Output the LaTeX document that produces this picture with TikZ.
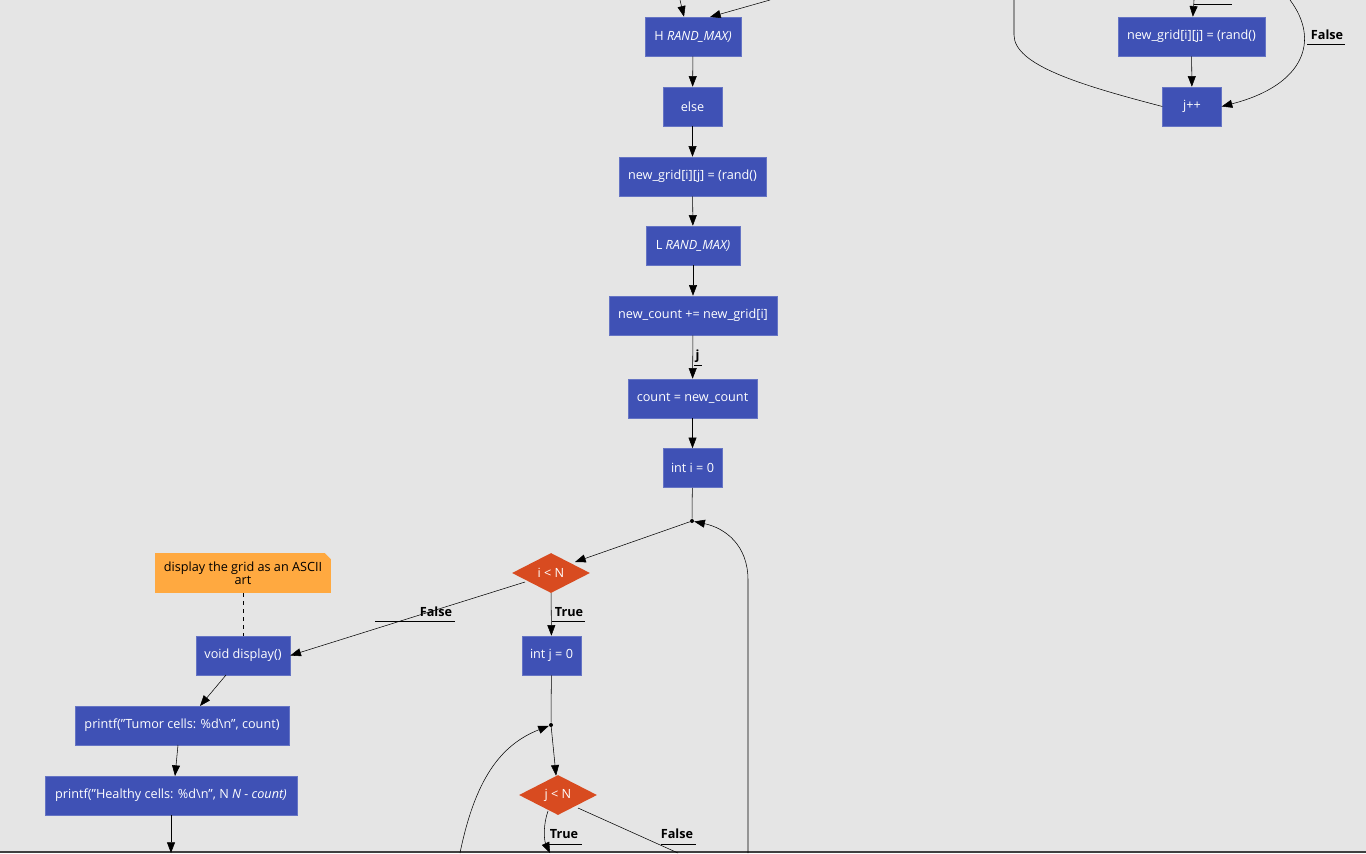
\documentclass[tikz,border=0pt]{standalone}
\usepackage{fontspec}
\setmainfont{Open Sans}
\usetikzlibrary{shapes.geometric,arrows.meta}
\definecolor{bg}{HTML}{E5E5E5}
\definecolor{boxc}{HTML}{3F51B5}
\definecolor{dia}{HTML}{D84B20}
\definecolor{note}{HTML}{FFA940}
\begin{document}
\begin{tikzpicture}[x=0.75pt,y=-0.75pt,
  bx/.style={fill=boxc,draw=boxc!80!white,text=white,font=\fontsize{9.5}{11}\selectfont,minimum height=29.25pt,inner sep=0pt},
  dm/.style={diamond,fill=dia,text=white,font=\fontsize{9.5}{11}\selectfont,minimum width=58.5pt,minimum height=30pt,inner sep=0pt,aspect=2},
  ar/.style={-{Triangle[length=8pt,width=6pt]},black},
  lb/.style={font=\bfseries\fontsize{9.5}{11}\selectfont,inner sep=1pt},
  dt/.style={circle,fill=black,inner sep=0pt,minimum size=3pt}]
\fill[bg] (0,0) rectangle (1366,853);
\useasboundingbox (0,0) rectangle (1366,853);
\draw[black!75,line width=1.5pt] (0,851.5) -- (1366,851.5);
% center column
\node[bx,minimum width=72pt] (h) at (693,36.5) {H \textit{RAND\_MAX)}};
\node[bx,minimum width=44pt] (else) at (692.5,106.5) {else};
\node[bx,minimum width=110pt] (ng) at (692.5,176.5) {new\_grid[i][j] = (rand()};
\node[bx,minimum width=70.5pt] (l) at (693,245.5) {L \textit{RAND\_MAX)}};
\node[bx,minimum width=126pt] (nc) at (693,315.5) {new\_count += new\_grid[i]};
\node[bx,minimum width=96.75pt] (cnt) at (692.5,398.5) {count = new\_count};
\node[bx,minimum width=44pt] (i0) at (692.5,468) {int i = 0};
\node[dt] (d1) at (692,521) {};
\node[dm] (iN) at (551,573) {i < N};
\node[bx,minimum width=44pt] (j0) at (551.5,655.5) {int j = 0};
\node[dt] (d2) at (551,725) {};
\node[dm] (jN) at (558,795) {j < N};
% left column
\node[fill=note,minimum width=132pt,minimum height=30pt,inner sep=0pt,align=center,font=\fontsize{9.5}{10}\selectfont] (cm) at (243,573) {display the grid as an ASCII\\art};
\fill[bg] (325,553) -- (331.5,553) -- (331.5,559.5) -- cycle;
\node[bx,minimum width=70.5pt] (vd) at (243,655.5) {void display()};
\node[bx,minimum width=160.5pt] (pt) at (182,725.5) {printf("Tumor cells: \%d\textbackslash n", count)};
\node[bx,minimum width=189pt] (ph) at (171,795.5) {printf("Healthy cells: \%d\textbackslash n", N \textit{N - count)}};
% right column
\node[bx,minimum width=110pt] (ng2) at (1191.5,36.5) {new\_grid[i][j] = (rand()};
\node[bx,minimum width=44pt] (jpp) at (1192,106.5) {j++};
% free ends
\coordinate (t1) at (680,0); \coordinate (t2) at (770,0);
\coordinate (t3) at (1194,0);
\coordinate (b1) at (171,853); \coordinate (b2) at (748,853);
\coordinate (b3) at (460,853); \coordinate (b4) at (550,853); \coordinate (b5) at (678,853);
% edges
\draw[ar] (t1) -- (h.north -| 684,0);
\draw[ar] (t2) -- (710,17);
\draw[ar] (h) -- (else);
\draw[ar] (else) -- (ng);
\draw[ar] (ng) -- (l);
\draw[ar] (l) -- (nc);
\draw[ar] (nc) -- (cnt);
\node[lb,anchor=south west] at (694,364) {j};
\draw (694,365) -- (702,365);
\draw[ar] (cnt) -- (i0);
\draw (i0) -- (d1);
\draw[ar] (d1) -- (575,562);
\draw[ar] (b2) -- (748,580) .. controls (748,545) and (725,528) .. (d1);
\draw[ar] (525,582) -- (vd.east);
\node[lb] at (436,612) {False};
\draw (375,621) -- (455,621);
\draw[ar] (iN) -- (j0);
\node[lb] at (569,612) {True};
\draw (552,621) -- (585,621);
\draw (j0) -- (d2);
\draw[ar] (d2) -- (jN);
\draw[ar] (b3) .. controls (475,780) and (500,745) .. (d2);
\draw[ar] (548,811) .. controls (543,825) and (544,840) .. (b4);
\node[lb] at (564,834) {True};
\draw (548,844) -- (582,844);
\draw (578,808) -- (b5);
\node[lb] at (677,834) {False};
\draw (661,844) -- (696,844);
\draw[dashed] (cm) -- (vd);
\draw[ar] (226,675) -- (200,706);
\draw[ar] (178,745) -- (175,776);
\draw[ar] (ph) -- (b1);
% right
\draw[ar] (t3) -- (ng2);
\draw (1194,4) -- (1232,4);
\draw[ar] (ng2) -- (jpp);
\draw (jpp.west) .. controls (1080,85) and (1014,65) .. (1014,35) -- (1014,0);
\draw[ar] (1290,0) .. controls (1320,40) and (1305,85) .. (jpp.east);
\node[lb] at (1327,35) {False};
\draw (1307,44) -- (1345,44);
\end{tikzpicture}
\end{document}
